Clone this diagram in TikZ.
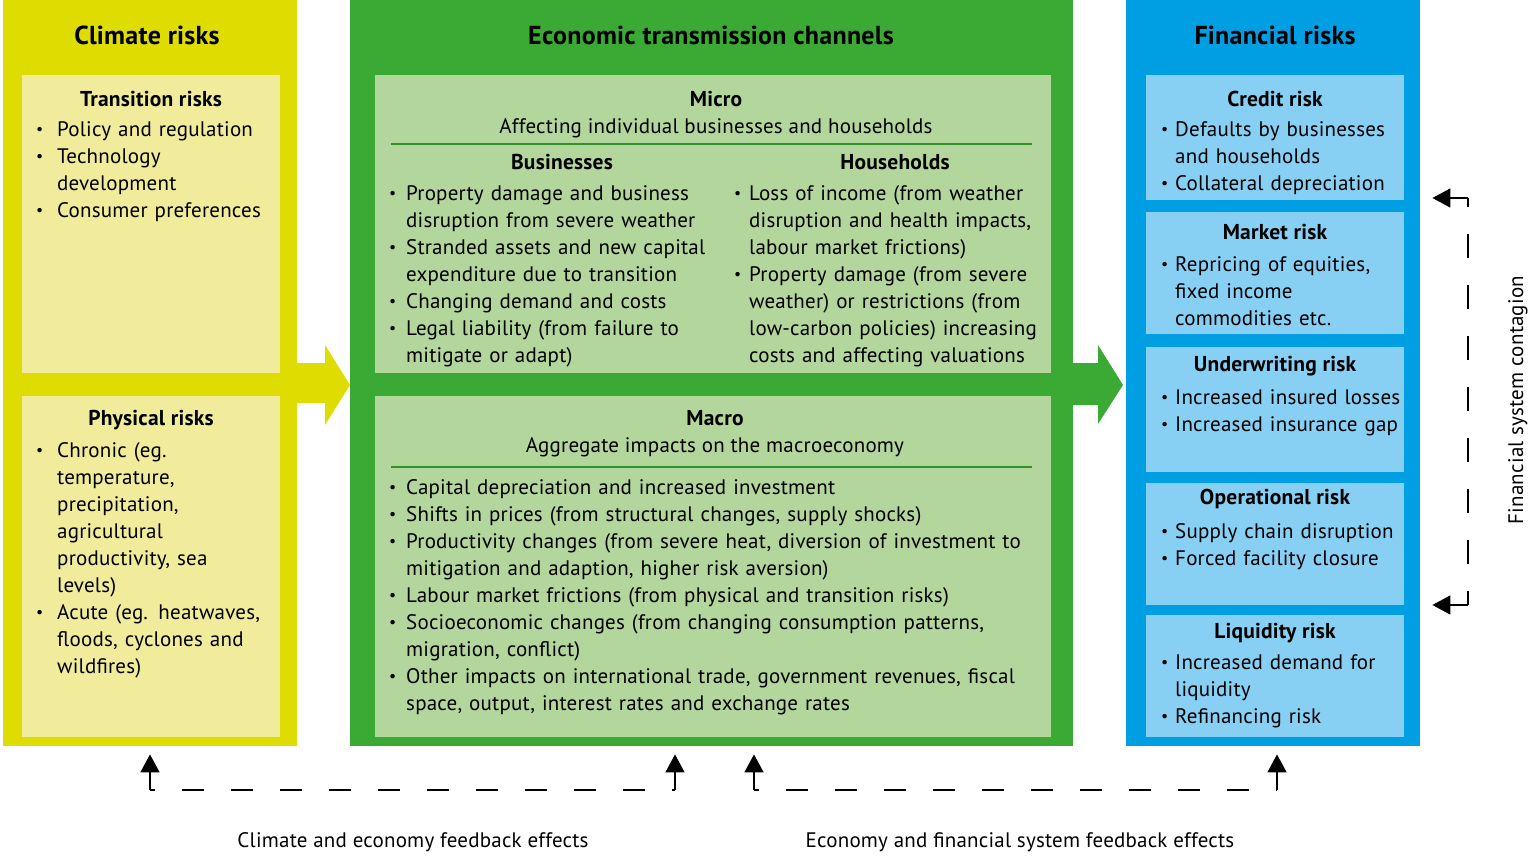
\documentclass[tikz,border=0pt]{standalone}
\usepackage{fontspec}
\setmainfont{PT Sans}[LetterSpace=1.0]
\usepackage{tikz}
\usetikzlibrary{positioning,calc,arrows.meta}

\definecolor{climYellow}{HTML}{DEDC00}
\definecolor{climLight}{HTML}{F1EC9B}
\definecolor{econGreen}{HTML}{3AAA35}
\definecolor{econLight}{HTML}{B3D69C}
\definecolor{finBlue}{HTML}{009FE3}
\definecolor{finLight}{HTML}{88CFF4}

\newlength{\bulgap}
\newcommand{\itm}[1]{\par\noindent\hangindent=\bulgap\hangafter=1\makebox[\bulgap][l]{\raisebox{0.09em}{\scalebox{0.75}{\textbullet}}}\rule{0pt}{20pt}#1\par}

\begin{document}
\begin{tikzpicture}[x=1pt,y=-1pt,
		box/.style={rectangle, inner sep=0, anchor=north west},
		title/.style={anchor=base, inner sep=0, font=\fontsize{26}{28}\selectfont\bfseries},
		head/.style={anchor=base, inner sep=0, font=\fontsize{21.5}{27}\selectfont\bfseries},
		body/.style={anchor=base, inner sep=0, font=\fontsize{21}{27}\selectfont},
		items/.style={anchor=north west, inner sep=0, text width=660pt, font=\fontsize{21}{27}\selectfont, execute at begin node={\setlength{\bulgap}{#1}}},
		fbarrow/.style={line width=1.5pt, -{Triangle[length=18pt,width=19pt]}},
		fbdash/.style={line width=1.5pt, dash pattern=on 22pt off 27pt, dash phase=17pt},
		fblabel/.style={anchor=base, inner sep=0, font=\fontsize{21}{27}\selectfont}]
		\useasboundingbox (0,0) rectangle (1536,859);
		
		% outer columns
		\node[box, fill=climYellow, minimum width=294pt, minimum height=746pt] (climate) at (3,0) {};
		\node[box, fill=econGreen, minimum width=723pt, minimum height=746pt] (econ) at (350,0) {};
		\node[box, fill=finBlue, minimum width=294pt, minimum height=746pt] (fin) at (1126,0) {};
		
		% inner boxes
		\node[box, fill=climLight, minimum width=258pt, minimum height=298pt] (trans) at (22,75) {};
		\node[box, fill=climLight, minimum width=258pt, minimum height=341pt] (phys) at (22,396) {};
		\node[box, fill=econLight, minimum width=676pt, minimum height=298pt] (micro) at (375,75) {};
		\node[box, fill=econLight, minimum width=676pt, minimum height=341pt] (macro) at (375,396) {};
		\node[box, fill=finLight, minimum width=258pt, minimum height=125pt] (credit) at (1146,75) {};
		\node[box, fill=finLight, minimum width=258pt, minimum height=122pt] (market) at (1146,212) {};
		\node[box, fill=finLight, minimum width=258pt, minimum height=125pt] (underw) at (1146,347) {};
		\node[box, fill=finLight, minimum width=258pt, minimum height=122pt] (operat) at (1146,483) {};
		\node[box, fill=finLight, minimum width=258pt, minimum height=122pt] (liquid) at (1146,615) {};
		
		% block arrows
		\fill[climYellow] (297,363) -- (325,363) -- (325,345) -- (350,385) -- (325,425) -- (325,403) -- (297,403) -- cycle;
		\fill[econGreen] (1073,363) -- (1098,363) -- (1098,345) -- (1123,385) -- (1098,424) -- (1098,405) -- (1073,405) -- cycle;
		
		% climate risks
		\node[title] (climT) at (147,45) {Climate risks};
		\node[head] (transT) at (151,106) {Transition risks};
		\node[items=21pt] (transL) at (36,109) {\itm{Policy and regulation}\itm{Technology\newline development}\itm{Consumer preferences}};
		\node[head] (physT) at (151,425) {Physical risks};
		\node[items=21pt] (physL) at (36,430) {\itm{Chronic (eg.\newline temperature,\newline precipitation,\newline agricultural\newline productivity, sea\newline levels)}\itm{Acute (eg. heatwaves,\newline floods, cyclones and\newline wildfires)}};
		
		% economic transmission channels
		\node[title] (econT) at (711,45) {Economic transmission channels};
		\node[head] (microT) at (716,106) {Micro};
		\node[body] (microS) at (716,133) {Affecting individual businesses and households};
		\draw[econGreen!85!black, line width=2pt] (391,144) -- (1032,144);
		\node[head] (busT) at (562,169) {Businesses};
		\node[head] (hhT) at (895,169) {Households};
		\node[items=17pt] (busL) at (389,173) {\itm{Property damage and business\newline disruption from severe weather}\itm{Stranded assets and new capital\newline expenditure due to transition}\itm{Changing demand and costs}\itm{Legal liability (from failure to\newline mitigate or adapt)}};
		\node[items=15pt] (hhL) at (734,173) {\itm{Loss of income (from weather\newline disruption and health impacts,\newline labour market frictions)}\itm{Property damage (from severe\newline weather) or restrictions (from\newline low-carbon policies) increasing\newline costs and affecting valuations}};
		\node[head] (macroT) at (715,425) {Macro};
		\node[body] (macroS) at (715,452) {Aggregate impacts on the macroeconomy};
		\draw[econGreen!85!black, line width=2pt] (391,467) -- (1032,467);
		\node[items=17pt] (macroL) at (389,467) {\itm{Capital depreciation and increased investment}\itm{Shifts in prices (from structural changes, supply shocks)}\itm{Productivity changes (from severe heat, diversion of investment to\newline mitigation and adaption, higher risk aversion)}\itm{Labour market frictions (from physical and transition risks)}\itm{Socioeconomic changes (from changing consumption patterns,\newline migration, conflict)}\itm{Other impacts on international trade, government revenues, fiscal\newline space, output, interest rates and exchange rates}};
		
		% financial risks
		\node[title] (finT) at (1275,45) {Financial risks};
		\node[head] (creditT) at (1275,106) {Credit risk};
		\node[items=14pt] (creditL) at (1161,109) {\itm{Defaults by businesses\newline and households}\itm{Collateral depreciation}};
		\node[head] (marketT) at (1275,239) {Market risk};
		\node[items=14pt] (marketL) at (1161,244) {\itm{Repricing of equities,\newline fixed income\newline commodities etc.}};
		\node[head] (underwT) at (1275,371) {Underwriting risk};
		\node[items=14pt] (underwL) at (1161,377) {\itm{Increased insured losses}\itm{Increased insurance gap}};
		\node[head] (operatT) at (1275,504) {Operational risk};
		\node[items=14pt] (operatL) at (1161,511) {\itm{Supply chain disruption}\itm{Forced facility closure}};
		\node[head] (liquidT) at (1275,638) {Liquidity risk};
		\node[items=14pt] (liquidL) at (1161,642) {\itm{Increased demand for\newline liquidity}\itm{Refinancing risk}};
		
		% feedback effects
		\coordinate (fbClim) at (150,790);
		\coordinate (fbEconL) at (675,790);
		\coordinate (fbEconR) at (754,790);
		\coordinate (fbFin) at (1277,790);
		\draw[fbdash] (fbClim) -- (fbEconL);
		\draw[fbdash] (fbEconR) -- (fbFin);
		\draw[fbarrow, shorten >=8pt] (fbClim) -- (fbClim |- climate.south);
		\draw[fbarrow, shorten >=8pt] (fbEconL) -- (fbEconL |- econ.south);
		\draw[fbarrow, shorten >=8pt] (fbEconR) -- (fbEconR |- econ.south);
		\draw[fbarrow, shorten >=8pt] (fbFin) -- (fbFin |- fin.south);
		\node[fblabel] (fbClimT) at (413,847) {Climate and economy feedback effects};
		\node[fblabel] (fbFinT) at (1020,847) {Economy and financial system feedback effects};
		
		% contagion
		\coordinate (ctTop) at (1468,198);
		\coordinate (ctBot) at (1468,605);
		\draw[fbdash, dash pattern=on 24pt off 27pt, dash phase=15pt] (ctTop) -- (ctBot);
		\draw[fbarrow, shorten >=12pt] (ctTop) -- (ctTop -| fin.east);
		\draw[fbarrow, shorten >=12pt] (ctBot) -- (ctBot -| fin.east);
		\node[rotate=90, inner sep=0, font=\fontsize{21}{27}\selectfont] (ctT) at (1518,400) {Financial system contagion};
	\end{tikzpicture}
\end{document}
